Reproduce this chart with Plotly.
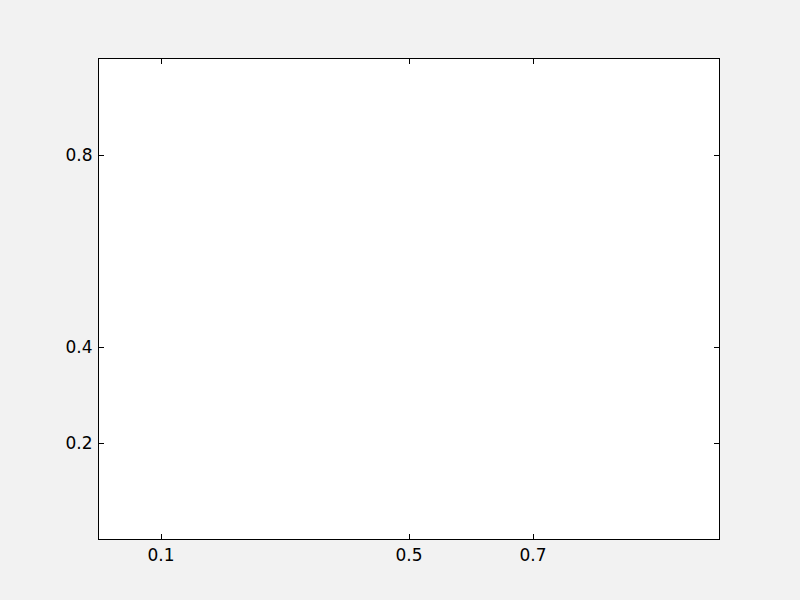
import plotly.graph_objects as go

x_ticks = [0.1, 0.5, 0.7]
x_labels = ["0.1", "0.5", "0.7"]
y_ticks = [0.2, 0.4, 0.8]
y_labels = ["0.2", "0.4", "0.8"]

fig = go.Figure()

axis_style = dict(
    range=[0, 1],
    showgrid=False,
    zeroline=False,
    showline=True,
    linecolor="black",
    linewidth=1,
    mirror="ticks",
    ticks="inside",
    ticklen=5,
    tickcolor="black",
    tickwidth=1,
    tickfont=dict(family="DejaVu Sans", size=17, color="black"),
)

fig.update_xaxes(tickvals=x_ticks, ticktext=x_labels, ticklabelstandoff=1, **axis_style)
fig.update_yaxes(tickvals=y_ticks, ticktext=y_labels, ticklabelstandoff=2, **axis_style)

fig.update_layout(
    width=800,
    height=600,
    margin=dict(l=99, r=81, t=59, b=61),
    paper_bgcolor="#f2f2f2",
    plot_bgcolor="white",
    showlegend=False,
)

fig.write_html(
    "out.html",
    config={"displayModeBar": False},
    post_script="document.body.style.margin='0';document.body.style.background='#f2f2f2';",
)
